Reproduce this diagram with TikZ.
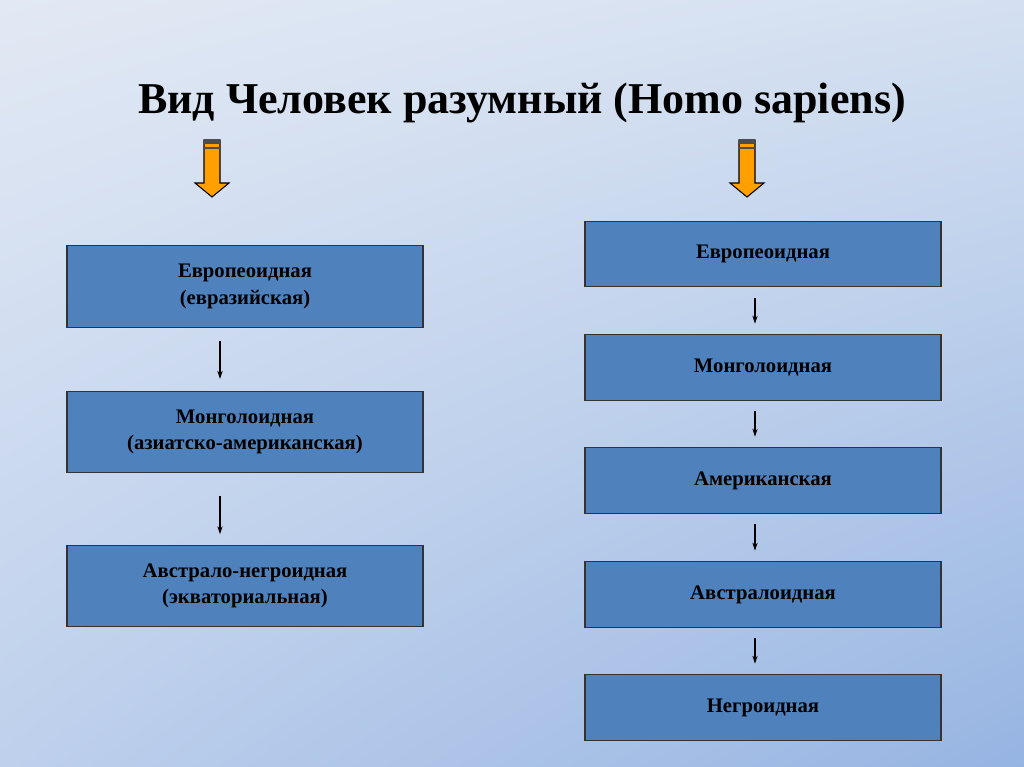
\documentclass[tikz,border=0pt]{standalone}
\usepackage{fontspec}
\setmainfont{Liberation Serif}
\usetikzlibrary{arrows.meta,shadings}
\definecolor{boxc}{RGB}{79,129,189}
\definecolor{orng}{RGB}{255,160,0}
\definecolor{bgul}{RGB}{226,233,244}
\definecolor{bgur}{RGB}{212,224,241}
\definecolor{bgll}{RGB}{190,208,236}
\definecolor{bglr}{RGB}{150,180,226}
\tikzset{
 rbox/.style={draw=black!80,fill=boxc,line width=0.8pt,minimum width=267pt,align=center,font=\bfseries\fontsize{15.5}{20}\selectfont,inner sep=0pt},
 link/.style={-{Stealth[length=6pt,width=4pt]},line width=0.8pt},
}
\begin{document}
\begin{tikzpicture}[x=0.75pt,y=-0.75pt]
\shade[upper left=bgul,upper right=bgur,lower left=bgll,lower right=bglr] (0,0) rectangle (1024,767);
\useasboundingbox (0,0) rectangle (1024,767);
\node (t) at (522,103) {\bfseries\fontsize{33}{38}\selectfont Вид Человек разумный (Homo sapiens)};
\foreach \cx in {212, 747}{
 \draw[fill=orng,line width=0.8pt] (\cx-8,140) -- (\cx+8,140) -- (\cx+8,183) -- (\cx+17,183) -- (\cx,197) -- (\cx-17,183) -- (\cx-8,183) -- cycle;
 \fill[black!70] (\cx-8,140) rectangle (\cx+8,144);
 \fill[black!70] (\cx-8,147) rectangle (\cx+8,149);
}
\node[rbox,minimum height=61pt] (l1) at (245,286.5) {Европеоидная\\(евразийская)};
\node[rbox,minimum height=61pt] (l2) at (245,432) {Монголоидная\\(азиатско-американская)};
\node[rbox,minimum height=61pt] (l3) at (245,586) {Австрало-негроидная\\(экваториальная)};
\node[rbox,minimum height=49pt] (r1) at (763,254) {Европеоидная};
\node[rbox,minimum height=49pt] (r2) at (763,367.5) {Монголоидная};
\node[rbox,minimum height=49pt] (r3) at (763,480.5) {Американская};
\node[rbox,minimum height=49pt] (r4) at (763,594.5) {Австралоидная};
\node[rbox,minimum height=49pt] (r5) at (763,707.5) {Негроидная};
\draw[link] ([yshift=-10]l1.south -| 220,0) -- ([yshift=9]l2.north -| 220,0);
\draw[link] ([yshift=-17]l2.south -| 220,0) -- ([yshift=8]l3.north -| 220,0);
\foreach \a/\b in {r1/r2,r2/r3,r3/r4,r4/r5}
 \draw[link] ([yshift=-8]\a.south -| 755,0) -- ([yshift=8]\b.north -| 755,0);
\end{tikzpicture}
\end{document}
